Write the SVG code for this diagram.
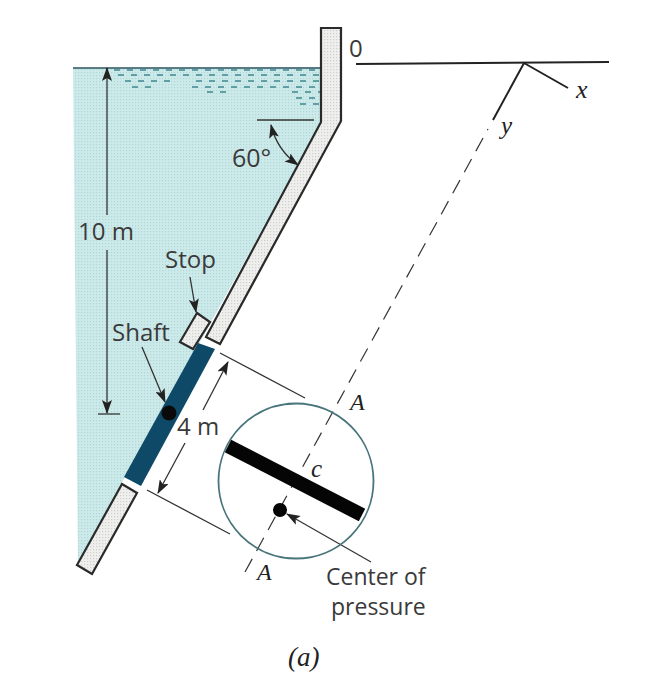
<svg xmlns="http://www.w3.org/2000/svg" width="652" height="678" viewBox="0 0 652 678">
<style>
.t{font-family:"Open Sans","Noto Sans",sans-serif;fill:#3a3a3a}
.i{font-family:"Liberation Serif",serif;font-style:italic;fill:#222}
.l{stroke:#333;stroke-width:1.3;fill:none}
.d{stroke:#333;stroke-width:1.2;fill:none;stroke-dasharray:15 9}
.w{stroke:#3f8890;stroke-width:1.6;fill:none}
.wall{fill:url(#wp);stroke:#2a2a2a;stroke-width:2.2;stroke-linejoin:miter}
</style>
<defs>
<pattern id="bp" width="3" height="3" patternUnits="userSpaceOnUse"><rect width="3" height="3" fill="#cdeaea"/><rect width="1.2" height="1.2" fill="#b0d6d8"/></pattern>
<pattern id="wp" width="3" height="3" patternUnits="userSpaceOnUse"><rect width="3" height="3" fill="#efefed"/><rect width="1.2" height="1.2" fill="#cfcfcf"/></pattern>
<marker id="a" viewBox="0 0 14 10" refX="13" refY="5" markerWidth="14" markerHeight="10" markerUnits="userSpaceOnUse" orient="auto-start-reverse"><path d="M0 0L14 5L0 10L3 5Z" fill="#222"/></marker>
</defs>
<rect width="652" height="678" fill="#fff"/>
<g id="water">
<path d="M73 68L322 67L322 122L78 562Z" fill="url(#bp)"/>
<path d="M73 68H322" stroke="#2d5560" stroke-width="1.500" fill="none"/>
<path class="w" stroke-dasharray="6 7" d="M114 70H320M118 75H320M125 81H175M196 81H320M132 87H152M192 87H320M207 92H226M292 92H320M296 98H320M300 104H320"/>
</g>
<g id="wall">
<path class="wall" d="M321 28H341V121L220 344L206 337L321 122Z"/>
<path class="wall" d="M122 484L137 493L92 574L77 565Z"/>
</g>
<g id="gate"><path d="M198 343L215 349L141 486L124 477Z" fill="#0e4a68"/></g>
<g id="stop"><path class="wall" d="M197 313L210 322L193 349L180 342Z"/></g>
<g id="shaft"><circle cx="169" cy="413" r="7.500" fill="#0a0a0a"/></g>
<g id="connectors">
<path class="l" marker-start="url(#a)" d="M107 68V215"/>
<path class="l" marker-end="url(#a)" d="M107 250V413"/>
<path class="l" d="M98 414H120"/>
<path class="l" d="M257 120H314"/>
<path class="l" stroke-width="1.500" marker-start="url(#a)" marker-end="url(#a)" d="M271 125Q277 150 298 165"/>
<path class="l" marker-end="url(#a)" d="M190 277L196 312"/>
<path class="l" marker-end="url(#a)" d="M142 347L165 402"/>
<path class="l" d="M220 353L305 398M147 490L230 534"/>
<path class="l" marker-start="url(#a)" d="M228 362L203 410"/>
<path class="l" marker-end="url(#a)" d="M185 443L158 493"/>
<path d="M356 64L609 62" stroke="#222" stroke-width="2" fill="none"/>
<path d="M568 88L524 63L493 120" stroke="#222" stroke-width="2" fill="none"/>
<path class="d" d="M245 572L488 129"/>
<path class="l" marker-end="url(#a)" d="M371 562L287 514"/>
</g>
<g id="detail">
<circle cx="296" cy="481" r="77.500" fill="none" stroke="#47757b" stroke-width="1.800"/>
<path d="M228 446L362 515" stroke="#050505" stroke-width="14" fill="none"/>
<circle cx="280" cy="510" r="7" fill="#050505"/>
</g>
<g id="labels">
<text class="t" x="349" y="57" font-size="24">0</text>
<text class="i" x="576" y="98" font-size="26">x</text>
<text class="i" x="501" y="134" font-size="25">y</text>
<text class="t" x="232" y="167" font-size="25">60°</text>
<text class="t" x="78" y="240" font-size="24">10 m</text>
<text class="t" x="165" y="268" font-size="24">Stop</text>
<text class="t" x="112" y="341" font-size="24">Shaft</text>
<text class="t" x="177" y="435" font-size="24">4 m</text>
<text class="i" x="350" y="410" font-size="24">A</text>
<text class="i" x="311" y="477" font-size="25">c</text>
<text class="i" x="257" y="580" font-size="24">A</text>
<text class="t" x="326" y="585" font-size="23">Center of</text>
<text class="t" x="331" y="615" font-size="23">pressure</text>
<text class="i" x="288" y="666" font-size="27">(a)</text>
</g>
</svg>
